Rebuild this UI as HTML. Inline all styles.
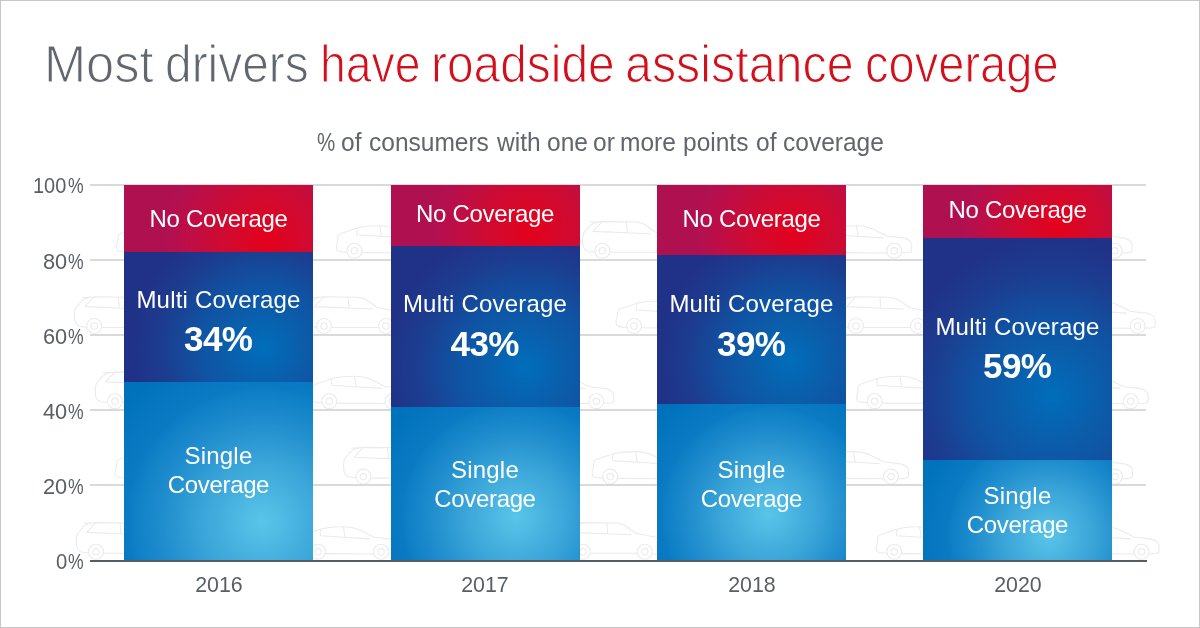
<!DOCTYPE html>
<html><head><meta charset="utf-8">
<style>
html,body{margin:0;padding:0;background:#fff;}
body{width:1200px;height:628px;position:relative;overflow:hidden;font-family:"Liberation Sans",sans-serif;}
.wrap{position:absolute;left:0;top:0;width:1200px;height:628px;will-change:transform;}
.frame{position:absolute;left:0;top:0;width:1198px;height:626px;border:1px solid #c6c6c6;}
.t{position:absolute;white-space:nowrap;}
.title{font-size:51px;line-height:51px;transform-origin:0 0;-webkit-text-stroke:1.1px #fff;}
.tg{color:#60676e;}
.tr{color:#d2101c;}
.sub{font-size:25px;line-height:25px;color:#60666d;transform-origin:0 0;}
.grid{position:absolute;left:90px;width:1056px;height:2px;background:#dadada;}
.axis{position:absolute;left:90px;width:1057px;top:560px;height:2px;background:#575c62;}
.yl{position:absolute;white-space:nowrap;font-size:22.5px;line-height:22.5px;color:#585e65;transform-origin:0 0;}
.xl{position:absolute;width:200px;text-align:center;font-size:22.5px;line-height:22.5px;color:#585e65;transform:scaleX(0.949);}
.seg{position:absolute;}
.lb{position:absolute;width:200px;text-align:center;color:#fff;font-size:24px;line-height:24px;white-space:nowrap;}
.nc-t{letter-spacing:-0.3px;}
.mc-t{letter-spacing:0.2px;}
.s-t{letter-spacing:0.2px;}
.c-t{letter-spacing:-0.35px;}
.pct{font-weight:700;font-size:35px;line-height:35px;letter-spacing:-0.6px;text-indent:-0.6px;}
</style></head><body>
<div class="wrap">
<div class="frame"></div>
<div class="t title tg" style="top:39px;left:43.94px;transform:scaleX(0.9913)">Most</div>
<div class="t title tg" style="top:39px;left:165.08px;transform:scaleX(0.9395)">drivers</div>
<div class="t title tr" style="top:39px;left:319.56px;transform:scaleX(0.9096)">have</div>
<div class="t title tr" style="top:39px;left:431.35px;transform:scaleX(0.9386)">roadside</div>
<div class="t title tr" style="top:39px;left:624.85px;transform:scaleX(0.9485)">assistance</div>
<div class="t title tr" style="top:39px;left:864.73px;transform:scaleX(0.9225)">coverage</div>
<div class="t sub" style="top:129.83px;left:317.23px;transform:scaleX(0.82)">%</div>
<div class="t sub" style="top:129.83px;left:341.07px;transform:scaleX(0.98)">of</div>
<div class="t sub" style="top:129.83px;left:369.17px;transform:scaleX(0.98)">consumers</div>
<div class="t sub" style="top:129.83px;left:497.43px;transform:scaleX(0.98)">with</div>
<div class="t sub" style="top:129.83px;left:547.02px;transform:scaleX(0.98)">one</div>
<div class="t sub" style="top:129.83px;left:593.43px;transform:scaleX(0.98)">or</div>
<div class="t sub" style="top:129.83px;left:620.23px;transform:scaleX(0.98)">more</div>
<div class="t sub" style="top:129.83px;left:682.53px;transform:scaleX(0.98)">points</div>
<div class="t sub" style="top:129.83px;left:756.17px;transform:scaleX(0.98)">of</div>
<div class="t sub" style="top:129.83px;left:782.58px;transform:scaleX(0.98)">coverage</div>
<svg style="position:absolute;left:0;top:0" width="1200" height="628" viewBox="0 0 1200 628"><defs><g id="ch" fill="none" stroke="#ebebeb" stroke-width="1.1" stroke-linecap="round" stroke-linejoin="round">
<path d="M-8 1Q-15 1-18-2Q-20-5-19.8-10L-19.5-15Q-19-18-17-20L-12-25.5Q-9-28-4-28.8L0-29.2L34-28.8Q40-28.3 45-24.5L53-18.5L73-14.5Q80-12 80-6L80-1Q80 2 76 2L70 2"/>
<path d="M8 1.5L54 1.5M-9.3-19.4L48-17M-0.5-29L-9.3-19.4M24-28.8L25-18M-11.5-28.4L-5-28.9"/>
<circle cx="0" cy="0" r="7.5"/><circle cx="0" cy="0" r="3.2"/><circle cx="62" cy="0" r="7.5"/><circle cx="62" cy="0" r="3.2"/>
</g><g id="cs" fill="none" stroke="#ebebeb" stroke-width="1.1" stroke-linecap="round" stroke-linejoin="round">
<path d="M-7 1.5Q-17 1-17.6-1Q-18.8-5-17-8.5L-16.3-15Q-16-16.5-14-17L3-22.8Q12-25 24-25Q36-24.8 43-21L55.5-14.8L72.5-12.7Q80-11 80.5-6L80.5-1Q80.5 2 76 2L71 2"/>
<path d="M7.5 1.8L56 2.2M3-22Q1.5-19 2.6-16L52-12.9M25.3-24.6L27-15.4"/>
<circle cx="0" cy="0" r="7.5"/><circle cx="0" cy="0" r="3.2"/><circle cx="63" cy="0" r="7.5"/><circle cx="63" cy="0" r="3.2"/>
</g></defs><use href="#cs" x="134.5" y="250.8"/><use href="#cs" x="354.4" y="250.8"/><use href="#ch" x="602.4" y="250.8"/><use href="#cs" x="831.2" y="250.8"/><use href="#cs" x="1051.6" y="250.8"/><use href="#ch" x="94.3" y="326.0"/><use href="#ch" x="324" y="326.0"/><use href="#cs" x="634" y="326.0"/><use href="#ch" x="856" y="326.0"/><use href="#cs" x="1074.6" y="326.0"/><use href="#ch" x="115" y="401.3"/><use href="#cs" x="329.3" y="401.3"/><use href="#cs" x="533.3" y="401.3"/><use href="#cs" x="874.6" y="401.3"/><use href="#cs" x="1067.7" y="401.3"/><use href="#cs" x="133" y="476.6"/><use href="#ch" x="363.4" y="476.6"/><use href="#cs" x="610.2" y="476.6"/><use href="#cs" x="828" y="476.6"/><use href="#cs" x="1052" y="476.6"/><use href="#ch" x="96" y="551.8"/><use href="#cs" x="318" y="551.8"/><use href="#ch" x="582.8" y="551.8"/><use href="#cs" x="894.2" y="551.8"/><use href="#cs" x="1078.6" y="551.8"/></svg>
<div class="grid" style="top:184px"></div>
<div class="grid" style="top:259px"></div>
<div class="grid" style="top:334px"></div>
<div class="grid" style="top:409px"></div>
<div class="grid" style="top:484px"></div>
<div class="axis"></div>
<div class="yl" style="top:175.45px;left:33.2px;transform:scaleX(0.886)">100</div>
<div class="yl" style="top:175.45px;left:68.47px;transform:scaleX(0.78)">%</div>
<div class="yl" style="top:250.65px;left:43.0px;transform:scaleX(0.967)">80</div>
<div class="yl" style="top:250.65px;left:68.47px;transform:scaleX(0.78)">%</div>
<div class="yl" style="top:325.85px;left:43.0px;transform:scaleX(0.967)">60</div>
<div class="yl" style="top:325.85px;left:68.47px;transform:scaleX(0.78)">%</div>
<div class="yl" style="top:401.05px;left:43.0px;transform:scaleX(0.967)">40</div>
<div class="yl" style="top:401.05px;left:68.47px;transform:scaleX(0.78)">%</div>
<div class="yl" style="top:476.25px;left:43.0px;transform:scaleX(0.967)">20</div>
<div class="yl" style="top:476.25px;left:68.47px;transform:scaleX(0.78)">%</div>
<div class="yl" style="top:551.45px;left:55.55px;transform:scaleX(0.9)">0</div>
<div class="yl" style="top:551.45px;left:68.47px;transform:scaleX(0.78)">%</div>
<div class="seg" style="left:124px;top:185px;width:189px;height:67px;background:radial-gradient(circle farthest-corner at 143px 53px,#e4001c 0%,#d6082a 20%,#cf0a33 30.5%,#c80c37 37%,#c10d44 48%,#b21050 64%,#af1050 75%)"></div>
<div class="seg" style="left:124px;top:252px;width:189px;height:130px;background:radial-gradient(circle farthest-corner at 139.6px 95.8px,#006ebb 0%,#0c5ba8 26%,#0f55a5 35.5%,#1a4193 56%,#1c3c8f 61%,#203288 77%)"></div>
<div class="seg" style="left:124px;top:382px;width:189px;height:178px;background:radial-gradient(circle farthest-corner at 138.3px 140px,#5ac5e9 0%,#3aa5d8 30.5%,#1e8ccd 52%,#0f80c6 65.5%,#0a7bc3 69%,#0072bc 92.5%)"></div>
<div class="lb nc-t" style="left:118.5px;top:206.68px">No Coverage</div>
<div class="lb mc-t" style="left:118.5px;top:288.18px">Multi Coverage</div>
<div class="lb pct" style="left:118.5px;top:320.67px">34%</div>
<div class="lb s-t" style="left:118.5px;top:444.28px">Single</div>
<div class="lb c-t" style="left:118.5px;top:472.98px">Coverage</div>
<div class="xl" style="left:118.5px;top:574.45px">2016</div>
<div class="seg" style="left:390.5px;top:185px;width:189px;height:61px;background:radial-gradient(circle farthest-corner at 139.3px 44.8px,#e4001c 0%,#d6082a 20%,#cf0a33 30.5%,#c80c37 37%,#c10d44 48%,#b21050 64%,#af1050 75%)"></div>
<div class="seg" style="left:390.5px;top:246px;width:189px;height:161px;background:radial-gradient(circle farthest-corner at 134.7px 122px,#006ebb 0%,#0c5ba8 26%,#0f55a5 35.5%,#1a4193 56%,#1c3c8f 61%,#203288 77%)"></div>
<div class="seg" style="left:390.5px;top:407px;width:189px;height:153px;background:radial-gradient(circle farthest-corner at 124.9px 110.2px,#5ac5e9 0%,#3aa5d8 30.5%,#1e8ccd 52%,#0f80c6 65.5%,#0a7bc3 69%,#0072bc 92.5%)"></div>
<div class="lb nc-t" style="left:385.0px;top:202.08px">No Coverage</div>
<div class="lb mc-t" style="left:385.0px;top:292.43px">Multi Coverage</div>
<div class="lb pct" style="left:385.0px;top:325.67px">43%</div>
<div class="lb s-t" style="left:385.0px;top:458.03px">Single</div>
<div class="lb c-t" style="left:385.0px;top:486.88px">Coverage</div>
<div class="xl" style="left:385.0px;top:574.45px">2017</div>
<div class="seg" style="left:657px;top:185px;width:189px;height:70px;background:radial-gradient(circle farthest-corner at 136.5px 50px,#e4001c 0%,#d6082a 20%,#cf0a33 30.5%,#c80c37 37%,#c10d44 48%,#b21050 64%,#af1050 75%)"></div>
<div class="seg" style="left:657px;top:255px;width:189px;height:149px;background:radial-gradient(circle farthest-corner at 133.8px 105.1px,#006ebb 0%,#0c5ba8 26%,#0f55a5 35.5%,#1a4193 56%,#1c3c8f 61%,#203288 77%)"></div>
<div class="seg" style="left:657px;top:404px;width:189px;height:156px;background:radial-gradient(circle farthest-corner at 111.7px 110.3px,#5ac5e9 0%,#3aa5d8 30.5%,#1e8ccd 52%,#0f80c6 65.5%,#0a7bc3 69%,#0072bc 92.5%)"></div>
<div class="lb nc-t" style="left:651.5px;top:206.68px">No Coverage</div>
<div class="lb mc-t" style="left:651.5px;top:292.43px">Multi Coverage</div>
<div class="lb pct" style="left:651.5px;top:325.67px">39%</div>
<div class="lb s-t" style="left:651.5px;top:458.03px">Single</div>
<div class="lb c-t" style="left:651.5px;top:486.88px">Coverage</div>
<div class="xl" style="left:651.5px;top:574.45px">2018</div>
<div class="seg" style="left:923px;top:185px;width:189px;height:53px;background:radial-gradient(circle farthest-corner at 134.3px 39.8px,#e4001c 0%,#d6082a 20%,#cf0a33 30.5%,#c80c37 37%,#c10d44 48%,#b21050 64%,#af1050 75%)"></div>
<div class="seg" style="left:923px;top:238px;width:189px;height:222px;background:radial-gradient(circle farthest-corner at 129px 158px,#006ebb 0%,#0c5ba8 26%,#0f55a5 35.5%,#1a4193 56%,#1c3c8f 61%,#203288 77%)"></div>
<div class="seg" style="left:923px;top:460px;width:189px;height:100px;background:radial-gradient(circle farthest-corner at 125.2px 75.3px,#5ac5e9 0%,#3aa5d8 30.5%,#1e8ccd 52%,#0f80c6 65.5%,#0a7bc3 69%,#0072bc 92.5%)"></div>
<div class="lb nc-t" style="left:917.5px;top:197.68px">No Coverage</div>
<div class="lb mc-t" style="left:917.5px;top:314.88px">Multi Coverage</div>
<div class="lb pct" style="left:917.5px;top:347.67px">59%</div>
<div class="lb s-t" style="left:917.5px;top:484.28px">Single</div>
<div class="lb c-t" style="left:917.5px;top:513.48px">Coverage</div>
<div class="xl" style="left:917.5px;top:574.45px">2020</div>
</div></body></html>
